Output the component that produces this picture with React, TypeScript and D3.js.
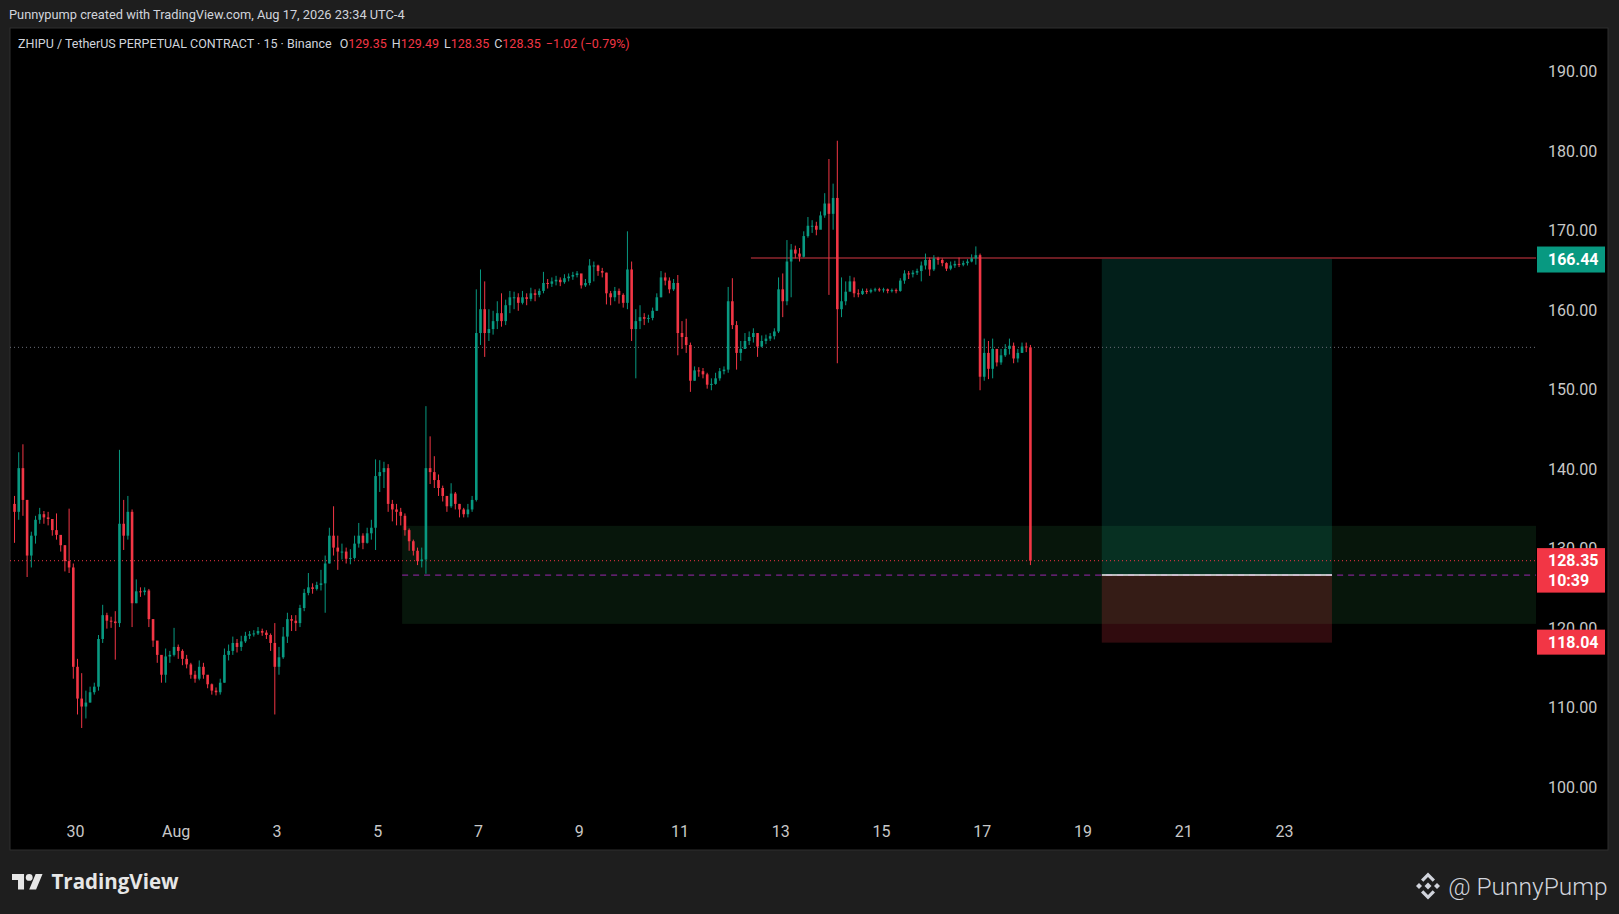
import * as d3 from 'd3';

// 2h candles: [close, high, low]; open = previous close
type Bar = [number, number, number];

const firstOpen = 135.5;

const jul28: Bar[] = [
  [134.5, 136.5, 130.6], [140, 142, 133.5], [136, 143, 134],
];
const jul29: Bar[] = [
  [129, 136, 126.3], [131.5, 132, 127.5], [133.5, 134, 130.5], [134.2, 135, 133],
  [133.8, 134.6, 133], [133.6, 134.5, 132.8], [132.2, 133.5, 131.5], [131.6, 134.3, 131],
  [130.3, 131.5, 129.5], [128.3, 130.3, 127], [127.5, 134.9, 126.8], [115, 128, 113.5],
];
const jul30: Bar[] = [
  [111, 116, 109], [110, 114.2, 107.3], [110.5, 112, 108.5], [111.8, 112.5, 110.5],
  [112.5, 113, 111.5], [118.5, 119, 112], [121.5, 122.8, 118], [120.8, 121.8, 119.8],
  [120.7, 121.3, 119.9], [120.5, 122, 115.9], [133, 142.3, 120], [131.5, 136, 129.7],
];
const jul31: Bar[] = [
  [134.5, 136.5, 131], [123, 134.8, 120], [124.5, 126, 123], [124.4, 125, 123.8],
  [124.6, 125, 124], [121, 124.8, 120], [118.3, 121, 117.5], [116.5, 118, 115.5],
  [114, 116, 113], [116.3, 117.3, 113], [116.5, 117, 115.5], [117.5, 119.9, 116.3],
];
const aug1: Bar[] = [
  [117, 117.8, 116], [116, 117.2, 115.2], [115.3, 116.5, 114.8], [114, 115.5, 113.5],
  [113.5, 114.5, 113], [115, 115.8, 113.3], [114, 115.5, 113.5], [112.8, 113.8, 112.3],
  [112, 112.9, 111.5], [111.8, 112.4, 111.4], [113, 113.5, 111.5], [116.5, 117.3, 113],
];
const aug2: Bar[] = [
  [117, 117.8, 115.8], [118, 118.8, 116.5], [117.5, 118.5, 116.8], [118.2, 118.9, 117],
  [118.9, 119.4, 118], [119.1, 119.5, 118.5], [119.2, 119.6, 118.8], [119.5, 120, 119],
  [119.3, 119.8, 118.9], [119, 119.6, 118.5], [118, 119.2, 117], [115, 120.5, 109],
];
const aug3: Bar[] = [
  [116.2, 117.5, 114], [118.8, 120, 116], [121, 121.8, 118], [120.8, 121.5, 119.5],
  [120.5, 121.5, 119.5], [122.4, 122.8, 120], [124.3, 124.8, 122], [125, 126.8, 124],
  [124.8, 125.5, 124.2], [125.3, 125.7, 124.6], [125.5, 127.2, 124.6], [128, 129, 121.8],
];
const aug4: Bar[] = [
  [131.5, 132.5, 128], [130, 135.2, 129], [129.5, 131.5, 127.2], [129.5, 130.5, 128.5],
  [128.6, 130, 128], [128.7, 129.8, 127.9], [130.5, 131.5, 128.5], [131.5, 133.1, 130],
  [130.6, 131.8, 129.8], [131.8, 132.5, 130.5], [132.5, 133.5, 131], [139, 141.1, 129.7],
];
const aug5: Bar[] = [
  [139.5, 141, 137], [140, 140.8, 137.5], [135.5, 140.5, 134.5], [134.8, 136, 133.3],
  [134.5, 135.5, 132.8], [134, 135, 132.8], [132.2, 134.3, 131.5], [130.8, 132.4, 129.6],
  [129.6, 131, 129], [128.3, 130, 127.8], [128.5, 130, 127.5], [140, 147.8, 126.7],
];
const aug6: Bar[] = [
  [139.5, 144, 138], [138.5, 141.5, 137.5], [137.5, 139.2, 136.5], [136.5, 137.8, 135.8],
  [135.2, 136.5, 134.5], [136.8, 138.1, 135], [135.5, 137, 134.8], [134.8, 135.5, 133.8],
  [134.2, 135, 133.8], [134.8, 135.5, 133.8], [136, 136.5, 134.5], [157, 162.5, 135.8],
];
const aug7: Bar[] = [
  [160, 165, 155.5], [157, 163.5, 154], [157.5, 160, 156], [158.5, 159.8, 156.8],
  [159.5, 161, 157.5], [158.5, 162, 157.8], [160.5, 161.2, 158], [161.5, 162.3, 159.5],
  [161.5, 162.2, 160], [160.8, 162, 159.8], [161.5, 162.3, 160.6], [161.3, 162, 160.5],
];
const aug8: Bar[] = [
  [162, 162.7, 161], [161.8, 162.5, 161], [162.3, 162.6, 161.5], [163.3, 164.7, 162],
  [163.2, 163.8, 162.6], [163.5, 164, 162.8], [163.7, 164.2, 163], [163.4, 164, 162.9],
  [163.9, 164.4, 163.2], [164.1, 164.5, 163.5], [164.3, 164.7, 163.7], [164.5, 164.8, 164],
];
const aug9: Bar[] = [
  [163, 164.3, 162.6], [163.3, 163.8, 162.8], [165.5, 166.3, 163], [165.5, 166, 163.5],
  [164.8, 165.6, 164.2], [164.6, 165.2, 164], [162, 164.6, 160.6], [161.5, 162.3, 160.5],
  [162.3, 162.8, 161], [161.8, 162.6, 160.7], [160.8, 162, 160.2], [165, 169.8, 160],
];
const aug10: Bar[] = [
  [157.5, 166, 156], [158.5, 160, 151.3], [159, 160.5, 157.5], [158.8, 159.5, 158],
  [158.9, 159.3, 158.3], [159.8, 160.2, 158.6], [161.5, 162, 159.8], [164, 164.8, 161.5],
  [163.6, 164.6, 163], [162.5, 164, 162], [163.3, 163.8, 162.3], [157, 164.3, 154.2],
];
const aug11: Bar[] = [
  [156.5, 158.5, 155], [155.5, 158.8, 154.5], [151, 155.8, 149.6], [152.3, 152.8, 151],
  [152.2, 152.7, 151.5], [151.8, 152.6, 151.3], [150.5, 152, 150], [150.6, 151.3, 149.8],
  [151.3, 152, 150.5], [152.2, 152.6, 151], [152.4, 152.8, 151.8], [161, 162.8, 152],
];
const aug12: Bar[] = [
  [158, 163.9, 157.5], [154.5, 158.5, 152.4], [155, 156, 153.5], [156, 157, 155],
  [156.5, 157.2, 155.5], [157, 157.6, 155.8], [155.3, 157, 154], [156, 156.7, 155.2],
  [156.3, 156.8, 155.6], [156.6, 157, 156], [157.2, 157.6, 156.2], [162.5, 164, 157],
];
const aug13: Bar[] = [
  [161, 164.5, 159], [166, 168.7, 160.5], [167.5, 168.2, 161.5], [167, 168, 166.4],
  [166.6, 167.7, 166], [169.2, 169.8, 166.5], [170.5, 171.6, 169], [170.5, 171.2, 169.6],
  [170, 171, 169.3], [171.8, 172.3, 170.5], [173.3, 174.6, 171.5], [172, 178.9, 161.8],
];
const aug14: Bar[] = [
  [174, 175.8, 170], [160, 181.2, 153.2], [161, 164, 159], [162.2, 163.5, 160.5],
  [163.5, 164.2, 162.5], [162, 164, 161.5], [161.9, 162.5, 161.5], [162.3, 162.6, 161.8],
  [162.2, 162.6, 161.9], [162.4, 162.6, 162], [162.5, 162.7, 162.2], [162.4, 162.7, 162.2],
];
const aug15: Bar[] = [
  [162.5, 162.7, 162.1], [162.3, 162.6, 162], [162.4, 162.6, 162.1], [162.3, 162.6, 162],
  [163.6, 163.9, 162.2], [164.5, 164.9, 163.2], [164.4, 164.8, 163.8], [164.6, 164.9, 164],
  [164.8, 165.1, 164.3], [165.5, 166, 163.5], [166.2, 167, 165], [165, 166.5, 164.2],
];
const aug16: Bar[] = [
  [166.4, 166.8, 164.8], [166.2, 166.6, 165.6], [165.8, 166.4, 165.4], [165.1, 165.9, 164.8],
  [165.5, 166, 164.9], [165.7, 166.1, 165.2], [165.6, 166.5, 165.3], [165.8, 166.1, 165.4],
  [166, 166.3, 165.5], [166.4, 166.9, 165.9], [166.8, 167.9, 165.6], [151.5, 167, 149.8],
];
const aug17: Bar[] = [
  [154.5, 156.3, 151], [152.5, 156, 151.2], [155, 156.3, 151.3], [153.3, 155, 152.8],
  [154.2, 155, 153], [155, 155.6, 154], [155.4, 156.3, 154.3], [153.8, 155.8, 153.2],
  [154.5, 155, 153.3], [155.3, 155.8, 154.5], [155.2, 155.8, 154.6], [128.35, 155.5, 127.8],
];

const sessions: [string, Bar[]][] = [
  ['2026-07-28T18:00:00Z', jul28], ['2026-07-29T00:00:00Z', jul29],
  ['2026-07-30T00:00:00Z', jul30], ['2026-07-31T00:00:00Z', jul31],
  ['2026-08-01T00:00:00Z', aug1], ['2026-08-02T00:00:00Z', aug2],
  ['2026-08-03T00:00:00Z', aug3], ['2026-08-04T00:00:00Z', aug4],
  ['2026-08-05T00:00:00Z', aug5], ['2026-08-06T00:00:00Z', aug6],
  ['2026-08-07T00:00:00Z', aug7], ['2026-08-08T00:00:00Z', aug8],
  ['2026-08-09T00:00:00Z', aug9], ['2026-08-10T00:00:00Z', aug10],
  ['2026-08-11T00:00:00Z', aug11], ['2026-08-12T00:00:00Z', aug12],
  ['2026-08-13T00:00:00Z', aug13], ['2026-08-14T00:00:00Z', aug14],
  ['2026-08-15T00:00:00Z', aug15], ['2026-08-16T00:00:00Z', aug16],
  ['2026-08-17T00:00:00Z', aug17],
];

const timeTickDates = [
  '2026-07-30', '2026-08-01', '2026-08-03', '2026-08-05', '2026-08-07', '2026-08-09', '2026-08-11',
  '2026-08-13', '2026-08-15', '2026-08-17', '2026-08-19', '2026-08-21', '2026-08-23',
];
const timeTickLabels = ['30', 'Aug', '3', '5', '7', '9', '11', '13', '15', '17', '19', '21', '23'];
const priceTicks = [100, 110, 120, 130, 140, 150, 160, 170, 180, 190];

// drawings
const lastPrice = 128.35;
const countdown = '10:39';
const prevClose = 155.2;
const resistance = 166.44;
const resistanceFrom = '2026-08-12T09:50:00Z';
const zoneTop = 132.74;
const zoneBottom = 120.4;
const zoneFrom = '2026-08-05T11:40:00Z';
const entry = 126.54;
const target = 166.44;
const stop = 118.04;
const positionFrom = '2026-08-19T09:00:00Z';
const positionTo = '2026-08-23T22:40:00Z';

const W = 1619;
const H = 914;
const pane = { left: 10, top: 28, right: 1608, bottom: 850 };
const plotRight = 1536;
const plotBottom = 810;
const UP = '#089981';
const DOWN = '#f23645';
const FONT = 'Roboto, "Noto Sans", sans-serif';
const TWO_H = 2 * 3600 * 1000;

export default function App() {
  const x = d3
    .scaleUtc()
    .domain([new Date('2026-07-30T00:00:00Z'), new Date('2026-08-23T00:00:00Z')])
    .range([75.4, 1284.4]);
  const y = d3.scaleLinear().domain([100, 190]).range([786, 70.8]);
  const fmt = d3.format('.2f');

  const candles: { t: Date; o: number; h: number; l: number; c: number }[] = [];
  let prev = firstOpen;
  sessions.forEach(([start, bars]) => {
    const t0 = new Date(start).getTime();
    bars.forEach(([c, h, l], i) => {
      candles.push({ t: new Date(t0 + i * TWO_H + TWO_H / 2), o: prev, h, l, c });
      prev = c;
    });
  });
  const bodyW = 2.6;

  const zx0 = x(new Date(zoneFrom));
  const px0 = x(new Date(positionFrom));
  const px1 = x(new Date(positionTo));
  const rx0 = x(new Date(resistanceFrom));

  return (
    <div style={{ position: 'fixed', left: 0, top: 0 }}>
      <svg width={W} height={H} style={{ display: 'block', fontFamily: FONT }}>
        <defs>
          <clipPath id="plot">
            <rect x={pane.left} y={pane.top} width={plotRight - pane.left} height={plotBottom - pane.top} />
          </clipPath>
        </defs>
        <rect width={W} height={H} fill="#1e1e1e" />
        <rect
          x={pane.left}
          y={pane.top}
          width={pane.right - pane.left}
          height={pane.bottom - pane.top}
          fill="#000"
          stroke="#2e2e2e"
        />

        <text x={9} y={19} fontSize={12.8} fill="#d1d4dc">
          Punnypump created with TradingView.com, Aug 17, 2026 23:34 UTC-4
        </text>

        <g clipPath="url(#plot)">
          {/* demand zone */}
          <rect x={zx0} y={y(zoneTop)} width={plotRight - zx0} height={y(zoneBottom) - y(zoneTop)} fill="#07160b" />

          {/* long position tool */}
          <rect x={px0} y={y(target)} width={px1 - px0} height={y(entry) - y(target)} fill="rgba(8,153,129,0.2)" />
          <rect x={px0} y={y(entry)} width={px1 - px0} height={y(stop) - y(entry)} fill="rgba(242,54,69,0.2)" />

          <line x1={pane.left} x2={plotRight} y1={y(prevClose)} y2={y(prevClose)} stroke="#6a6d78" strokeDasharray="1 3" />
          <line x1={zx0} x2={plotRight} y1={y(entry)} y2={y(entry)} stroke="#9c27b0" strokeDasharray="6 5" />
          <line x1={px0} x2={px1} y1={y(entry)} y2={y(entry)} stroke="#f0f0f0" strokeWidth={1.5} />
          <line x1={rx0} x2={plotRight} y1={y(resistance)} y2={y(resistance)} stroke="#6b1c22" strokeWidth={2} />
          <line x1={pane.left} x2={plotRight} y1={y(lastPrice)} y2={y(lastPrice)} stroke={DOWN} strokeDasharray="1 3" />

          {candles.map((d, i) => {
            const cx = x(d.t);
            const col = d.c >= d.o ? UP : DOWN;
            const top = y(Math.max(d.o, d.c));
            const bh = Math.max(1, y(Math.min(d.o, d.c)) - top);
            return (
              <g key={i}>
                <line x1={cx} x2={cx} y1={y(d.h)} y2={y(d.l)} stroke={col} strokeWidth={1} />
                <rect x={cx - bodyW / 2} y={top} width={bodyW} height={bh} fill={col} />
              </g>
            );
          })}
        </g>

        {/* legend */}
        <text x={18} y={47.5} fontSize={12.5} fill="#d1d4dc" style={{ whiteSpace: 'pre' }}>
          <tspan>ZHIPU / TetherUS PERPETUAL CONTRACT · 15 · Binance </tspan>
          <tspan dx={5}>O</tspan>
          <tspan fill={DOWN}>129.35</tspan>
          <tspan dx={5}>H</tspan>
          <tspan fill={DOWN}>129.49</tspan>
          <tspan dx={5}>L</tspan>
          <tspan fill={DOWN}>128.35</tspan>
          <tspan dx={5}>C</tspan>
          <tspan fill={DOWN}>128.35</tspan>
          <tspan dx={5} fill={DOWN}>−1.02 (−0.79%)</tspan>
        </text>

        {/* price axis */}
        {priceTicks.map((p) => (
          <text key={p} x={1548} y={y(p) + 1} dy="0.35em" fontSize={16} fill="#c8c8c8">
            {fmt(p)}
          </text>
        ))}
        <rect x={1537} y={y(resistance) - 11.5} width={68} height={26} fill={UP} />
        <text x={1548} y={y(resistance) + 1.5} dy="0.35em" fontSize={16} fontWeight="bold" fill="#fff">
          {fmt(resistance)}
        </text>
        <rect x={1537} y={y(lastPrice) - 12.6} width={68} height={44.5} fill={DOWN} />
        <text x={1548} y={y(lastPrice)} dy="0.35em" fontSize={16} fontWeight="bold" fill="#fff">
          {fmt(lastPrice)}
        </text>
        <text x={1548} y={y(lastPrice) + 19.5} dy="0.35em" fontSize={16} fontWeight="bold" fill="#fff">
          {countdown}
        </text>
        <rect x={1537} y={y(stop) - 13} width={68} height={25} fill={DOWN} />
        <text x={1548} y={y(stop)} dy="0.35em" fontSize={16} fontWeight="bold" fill="#fff">
          {fmt(stop)}
        </text>

        {/* time axis */}
        {timeTickDates.map((d, i) => (
          <text
            key={d}
            x={x(new Date(d + 'T00:00:00Z'))}
            y={831}
            dy="0.35em"
            textAnchor="middle"
            fontSize={16}
            fill="#c8c8c8"
          >
            {timeTickLabels[i]}
          </text>
        ))}

        {/* footer */}
        <g transform="translate(12,870.5) scale(0.86)" fill="#e6e6e6">
          <path d="M14 22H7V11H0V4h14v18zM28 22h-8l7.5-18h8L28 22z" />
          <circle cx={20} cy={8} r={4} />
        </g>
        <text
          x={51.5}
          y={889}
          fontSize={20.5}
          fontWeight="bold"
          fill="#e6e6e6"
          style={{ fontFamily: '"Open Sans", Roboto, sans-serif' }}
        >
          TradingView
        </text>
        <g transform="translate(1428,886)" fill="#d1d4dc">
          <polygon points="0,-3.5 3.5,0 0,3.5 -3.5,0" />
          <polygon points="-9,-3 -6,0 -9,3 -12,0" />
          <polygon points="9,-3 12,0 9,3 6,0" />
          <polygon points="0,-13.5 7,-6.5 4.7,-4.2 0,-8.9 -4.7,-4.2 -7,-6.5" />
          <polygon points="0,13.5 7,6.5 4.7,4.2 0,8.9 -4.7,4.2 -7,6.5" />
        </g>
        <text x={1607.5} y={895} textAnchor="end" fontSize={24.5} fontWeight={300} fill="#d1d4dc">
          @ PunnyPump
        </text>
      </svg>
    </div>
  );
}
